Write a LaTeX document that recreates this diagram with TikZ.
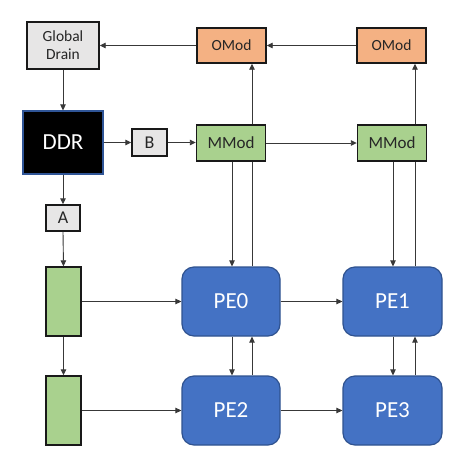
\documentclass[tikz,border=0pt]{standalone}
\usepackage{fontspec}
\setmainfont{Carlito}
\usetikzlibrary{arrows.meta}
\definecolor{gbox}{HTML}{E7E6E6}
\definecolor{obox}{HTML}{F4B183}
\definecolor{mbox}{HTML}{A9D18E}
\definecolor{pebox}{HTML}{4472C4}
\definecolor{peline}{HTML}{2F528F}
\definecolor{txt}{HTML}{262626}
\definecolor{conn}{HTML}{383838}
\begin{document}
\begin{tikzpicture}[x=1pt,y=-1pt,
  box/.style={draw=black!90,line width=1.4pt,inner sep=0pt,text=txt,align=center},
  gray box/.style={box,fill=gbox},
  omod/.style={box,fill=obox,minimum width=69pt,minimum height=35pt,font=\fontsize{15.5}{17}\selectfont},
  mmod/.style={box,fill=mbox,minimum width=69pt,minimum height=36pt,font=\fontsize{17}{19}\selectfont},
  buf/.style={box,fill=mbox,minimum width=35pt,minimum height=69pt},
  pe/.style={draw=peline,line width=1.2pt,fill=pebox,rounded corners=12pt,minimum width=98pt,minimum height=69pt,text=white,font=\fontsize{23}{26}\selectfont},
  arr/.style={draw=conn,line width=0.9pt,-{Triangle[length=6pt,width=5.5pt]}},
  ln/.style={draw=conn,line width=0.9pt}]
\useasboundingbox (0,0) rectangle (474,475);
\fill[white] (0,0) rectangle (474,475);
% nodes
\node[gray box,minimum width=72pt,minimum height=47pt,font=\fontsize{15.5}{18}\selectfont] (gd) at (63,45.5) {Global\\Drain};
\node[draw={rgb,255:red,47;green,85;blue,151},line width=1.2pt,fill=black,text=white,minimum width=80pt,minimum height=63pt,font=\fontsize{23}{26}\selectfont] (ddr) at (63,142.5) {DDR};
\node[gray box,minimum width=35pt,minimum height=27pt,font=\fontsize{18}{20}\selectfont] (b) at (149.5,142.5) {B};
\node[gray box,minimum width=34pt,minimum height=26pt,font=\fontsize{18}{20}\selectfont] (a) at (63,218) {A};
\node[omod] (om1) at (231.5,45.5) {OMod};
\node[omod] (om2) at (391.5,45.5) {OMod};
\node[mmod] (mm1) at (231,143) {MMod};
\node[mmod] (mm2) at (392,143) {MMod};
\node[buf] (g1) at (63.5,301.5) {};
\node[buf] (g2) at (63.5,410.5) {};
\node[pe] (pe0) at (231,301.5) {PE0};
\node[pe,minimum width=99pt] (pe1) at (392.5,301.5) {PE1};
\node[pe] (pe2) at (231,410.5) {PE2};
\node[pe,minimum width=99pt] (pe3) at (392.5,410.5) {PE3};
% column coordinates
\coordinate (c1) at (232,0);
\coordinate (c2) at (252,0);
\coordinate (c3) at (393,0);
\coordinate (c4) at (415,0);
% connectors
\draw[arr] (om1.west) -- (gd.east |- om1.west);
\draw[arr] (om2.west) -- (om1.east);
\draw[arr] (gd.south) -- (ddr.north);
\draw[arr] (ddr.east |- b.west) -- (b.west);
\draw[arr] (b.east) -- (mm1.west |- b.east);
\draw[arr] (mm1.east) -- (mm2.west);
\draw[arr] (ddr.south) -- (a.north);
\draw[arr] (a.south) -- (g1.north);
\draw[arr] (g1.south) -- (g2.north);
\draw[arr] (g1.east) -- (pe0.west);
\draw[arr] (pe0.east) -- (pe1.west);
\draw[arr] (g2.east) -- (pe2.west);
\draw[arr] (pe2.east) -- (pe3.west);
% vertical links
\draw[arr] (c1 |- mm1.south) -- (c1 |- pe0.north);
\draw[ln] (c2 |- pe0.north) -- (c2 |- mm1.south);
\draw[arr] (c2 |- mm1.north) -- (c2 |- om1.south);
\draw[arr] (c3 |- mm2.south) -- (c3 |- pe1.north);
\draw[ln] (c4 |- pe1.north) -- (c4 |- mm2.south);
\draw[arr] (c4 |- mm2.north) -- (c4 |- om2.south);
\draw[arr] (c1 |- pe0.south) -- (c1 |- pe2.north);
\draw[arr] (c2 |- pe2.north) -- (c2 |- pe0.south);
\draw[arr] (c3 |- pe1.south) -- (c3 |- pe3.north);
\draw[arr] (c4 |- pe3.north) -- (c4 |- pe1.south);
\end{tikzpicture}
\end{document}
